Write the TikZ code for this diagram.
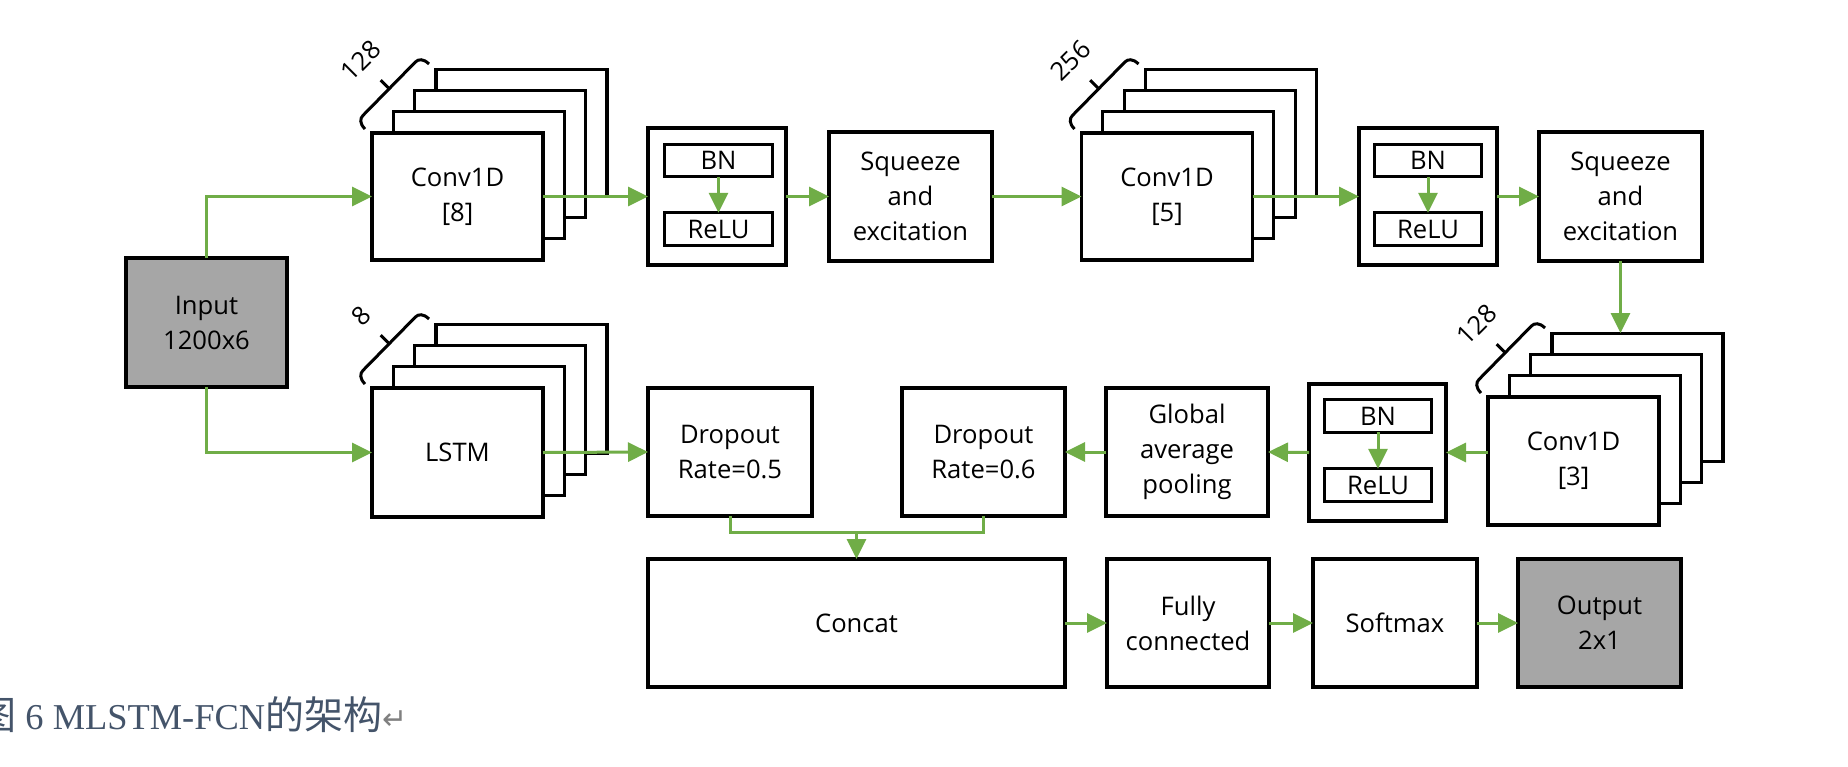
\documentclass[tikz,border=0pt]{standalone}
\usepackage{fontspec}
\setmainfont{Open Sans}
\newfontfamily\capfont{Liberation Serif}
\newfontfamily\cjk{Noto Sans CJK SC}
\newfontfamily\symfont{DejaVu Sans}
\usetikzlibrary{arrows.meta,calc}
\definecolor{grn}{HTML}{70AD47}
\definecolor{gry}{HTML}{A6A6A6}
\definecolor{capc}{HTML}{44546A}
\tikzset{
 box/.style={draw=black, line width=1.6pt, fill=white, inner sep=0pt, outer sep=0pt, align=center, font=\fontsize{12.8}{17.5}\selectfont},
 inbox/.style={draw=black, line width=1.4pt, fill=white, inner sep=0pt, outer sep=0pt, minimum width=53.75pt, minimum height=16.25pt, font=\fontsize{12.8}{15}\selectfont},
 garrow/.style={draw=grn, line width=1.5pt, -{Triangle[length=10pt,width=9.5pt]}},
 gline/.style={draw=grn, line width=1.5pt},
 brc/.style={draw=black, line width=1.5pt},
 blabel/.style={rotate=45, inner sep=0pt, font=\fontsize{12.8}{15}\selectfont},
}
\newcommand\mkstack[5]{%
 \foreach \k in {3,2,1}{\node[box, minimum width=#4, minimum height=#5] (#1-\k) at ({#2+21.3*\k},{#3-21.3*\k}) {};}}
\newcommand\chbrace[3]{%
 \draw[brc] ($(#1)+(-7,-4)$) .. controls ($(#1)+(-12.7,-9.7)$) and ($(#1)+(-11.9,-14.7)$) .. ($(#1)+(-9.1,-17.5)$) -- ($(#1)+(43.5,-71.1)$) .. controls ($(#1)+(46.3,-73.9)$) and ($(#1)+(51.3,-74.7)$) .. ($(#1)+(57,-69)$);
 \draw[brc] ($(#1)+(17.2,-44.3)$) -- ($(#1)+(8.7,-52.8)$);
 \node[blabel] (#3) at ($(#1)+(-11,-72.5)$) {#2};}
\begin{document}
\begin{tikzpicture}[x=0.5pt,y=-0.5pt]
\useasboundingbox (0,0) rectangle (1848,766);

% input
\node[box, fill=gry, minimum width=80.5pt, minimum height=64.5pt] (in) at (206.5,322.5) {Input\\1200x6};

% top row
\mkstack{conv8}{457.5}{196.5}{85.5pt}{63.5pt}
\node[box, minimum width=85.5pt, minimum height=63.5pt] (conv8) at (457.5,196.5) {Conv1D\\{[8]}};
\node[box, minimum width=69pt, minimum height=68.5pt] (bn1) at (717,196.5) {};
\node[inbox] (bn1a) at (718.5,160.5) {BN};
\node[inbox] (bn1b) at (718.5,229) {ReLU};
\node[box, minimum width=81.5pt, minimum height=64.5pt] (se1) at (910.5,196.5) {Squeeze\\and\\excitation};
\mkstack{conv5}{1167}{196.5}{85.5pt}{63.5pt}
\node[box, minimum width=85.5pt, minimum height=63.5pt] (conv5) at (1167,196.5) {Conv1D\\{[5]}};
\node[box, minimum width=69pt, minimum height=68.5pt] (bn2) at (1428,196.5) {};
\node[inbox] (bn2a) at (1428,160.5) {BN};
\node[inbox] (bn2b) at (1428,229) {ReLU};
\node[box, minimum width=81.5pt, minimum height=64.5pt] (se2) at (1620.5,196.5) {Squeeze\\and\\excitation};

% middle row
\mkstack{conv3}{1573.5}{461}{85.5pt}{64pt}
\node[box, minimum width=85.5pt, minimum height=64pt] (conv3) at (1573.5,461) {Conv1D\\{[3]}};
\node[box, minimum width=68.5pt, minimum height=68.5pt] (bn3) at (1377.5,452.5) {};
\node[inbox] (bn3a) at (1378,416) {BN};
\node[inbox] (bn3b) at (1378,485) {ReLU};
\node[box, minimum width=81pt, minimum height=64pt] (gap) at (1187,452) {Global\\average\\pooling};
\node[box, minimum width=81.5pt, minimum height=64pt] (do6) at (983.5,452) {Dropout\\Rate=0.6};
\node[box, minimum width=82pt, minimum height=64pt] (do5) at (730,452) {Dropout\\Rate=0.5};
\mkstack{lstm}{457.5}{452.5}{85.5pt}{64.5pt}
\node[box, minimum width=85.5pt, minimum height=64.5pt] (lstm) at (457.5,452.5) {LSTM};

% bottom row
\node[box, minimum width=208.5pt, minimum height=64pt] (concat) at (856.5,623) {Concat};
\node[box, minimum width=81pt, minimum height=64pt] (fc) at (1188,623) {Fully\\connected};
\node[box, minimum width=82pt, minimum height=64pt] (sm) at (1395,623) {Softmax};
\node[box, fill=gry, minimum width=81.5pt, minimum height=64pt] (out) at (1599.5,623) {Output\\2x1};

% braces
\chbrace{conv8.north west}{128}{l128a}
\chbrace{conv5.north west}{256}{l256}
\chbrace{conv3.north west}{128}{l128b}
\chbrace{lstm.north west}{8}{l8}

% connectors
\draw[garrow] (bn1a) -- (bn1b);
\draw[garrow] (bn2a) -- (bn2b);
\draw[garrow] (bn3a) -- (bn3b);
\draw[garrow] (in.north) |- (conv8.west);
\draw[garrow] (in.south) |- (lstm.west);
\draw[garrow] (conv8.east) -- (bn1.west);
\draw[garrow] (bn1.east) -- (se1.west);
\draw[garrow] (se1.east) -- (conv5.west);
\draw[garrow] (conv5.east) -- (bn2.west);
\draw[garrow] (bn2.east) -- (se2.west);
\draw[garrow] (se2.south) -- (se2.south |- conv3-3.north);
\draw[garrow] (conv3.west |- bn3.east) -- (bn3.east);
\draw[garrow] (bn3.west) -- (gap.east);
\draw[garrow] (gap.west) -- (do6.east);
\draw[garrow] (lstm.east) -- (do5.west);
\coordinate (jn) at (856.5,532);
\draw[gline] (do5.south) |- (jn) -| (do6.south);
\draw[garrow] (jn) -- (concat.north);
\draw[garrow] (concat.east) -- (fc.west);
\draw[garrow] (fc.east) -- (sm.west);
\draw[garrow] (sm.east) -- (out.west);

% caption
\node[anchor=base west, inner sep=0pt, text=capc, font=\capfont\fontsize{18.2}{20}\selectfont] (cap) at (-23,729) {{\cjk\fontsize{19.5}{20}\selectfont 图} 6 MLSTM-FCN{\cjk\fontsize{19.5}{20}\selectfont 的架构}{\symfont\fontsize{15}{16}\selectfont\color{gray}↵}};
\end{tikzpicture}
\end{document}
